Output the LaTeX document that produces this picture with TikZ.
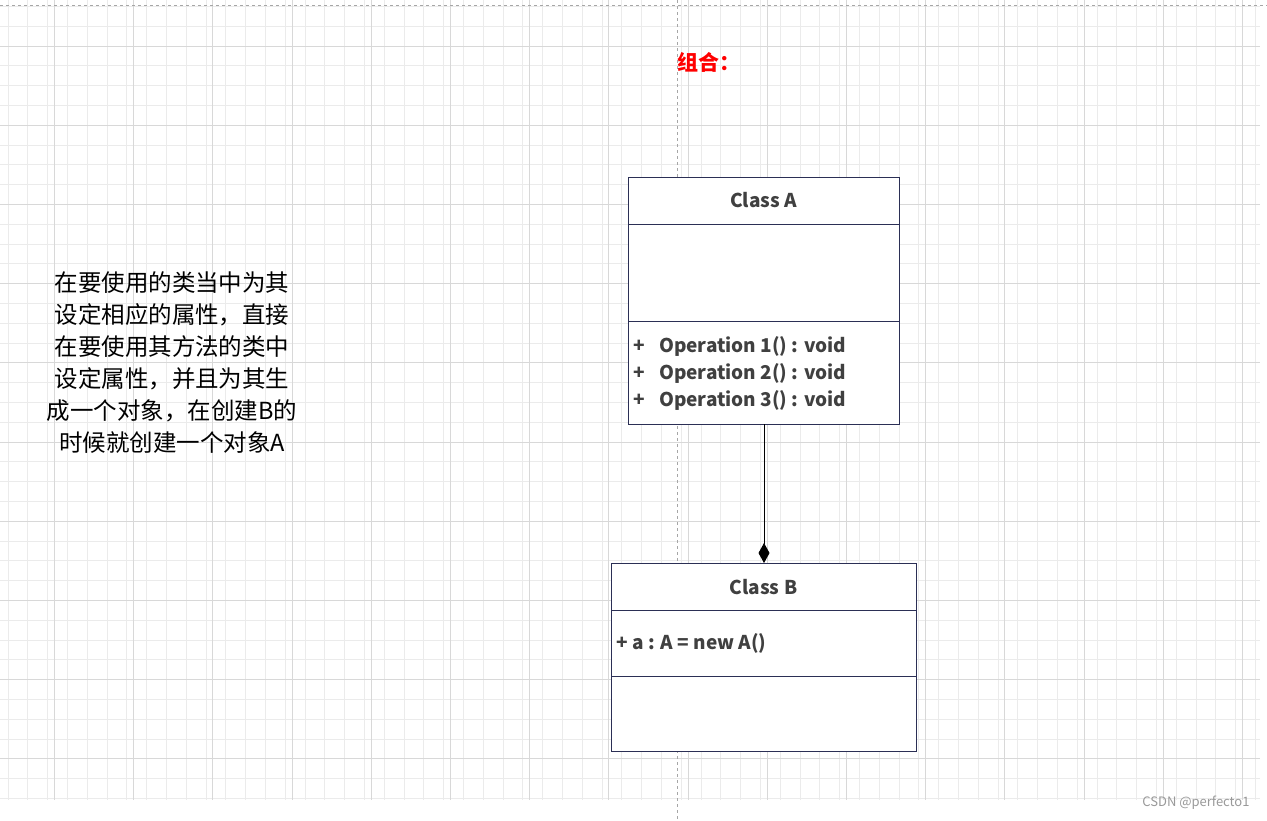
\documentclass[tikz,border=0pt]{standalone}
\usepackage{fontspec}
\setmainfont{Noto Sans CJK SC}
\newfontfamily\cjk{Noto Sans CJK SC}
\usetikzlibrary{arrows.meta}
\definecolor{minor}{HTML}{EBEBEB}
\definecolor{major}{HTML}{D8D8D8}
\definecolor{boxc}{HTML}{2B2F55}
\definecolor{txt}{HTML}{404040}
\tikzset{
  umlbox/.style={draw=boxc, line width=0.9pt, fill=white},
  hdr/.style={font=\fontsize{19}{22}\selectfont\bfseries, text=txt},
  op/.style={font=\fontsize{19}{22}\selectfont\bfseries, text=txt, anchor=west},
  note/.style={font=\fontsize{23.5}{32}\selectfont, align=center, text=black},
}
\begin{document}
\begin{tikzpicture}[x=1pt,y=-1pt]
\useasboundingbox (0,0) rectangle (1267,820);
\fill[white] (0,0) rectangle (1267,820);
% grid
\foreach \i in {0,...,63} {\draw[minor,line width=0.8pt] ({8+19.8*\i},0) -- ({8+19.8*\i},800);}
\foreach \i in {0,...,40} {\draw[minor,line width=0.8pt] (0,{6.4+19.8*\i}) -- (1260,{6.4+19.8*\i});}
\foreach \i in {-9,...,6} {\draw[major,line width=0.8pt] ({767.2+79.2*\i},0) -- ({767.2+79.2*\i},800);}
\foreach \i in {0,...,9} {\draw[major,line width=0.8pt] (0,{46+79.2*\i}) -- (1260,{46+79.2*\i});}
\draw[gray!70,dashed,line width=0.8pt] (0,5) -- (1267,5);
\draw[gray!70,dashed,line width=0.8pt] (677,0) -- (677,820);
% title
\node[anchor=west,text=red,font=\fontsize{21}{24}\selectfont\bfseries] (title) at (674,62) {组合：};
% Class A
\draw[umlbox] (628,177) rectangle (899,424);
\draw[boxc,line width=0.9pt] (628,224) -- (899,224) (628,321) -- (899,321);
\node[hdr] (ah) at (763.5,200) {Class A};
\coordinate (abot) at (764,424);
\node[op] at (630,346) {+\hspace{14pt}Operation 1() : void};
\node[op] at (630,373) {+\hspace{14pt}Operation 2() : void};
\node[op] at (630,400) {+\hspace{14pt}Operation 3() : void};
% Class B
\draw[umlbox] (611,563) rectangle (916,751);
\draw[boxc,line width=0.9pt] (611,610) -- (916,610) (611,676) -- (916,676);
\node[hdr] (bh) at (763.5,587) {Class B};
\coordinate (btop) at (764,563);
\node[op] at (613,643) {+ a : A = new A()};
% composition
\draw[black,line width=0.9pt,-{Diamond[length=20pt,width=11pt]}] (abot) -- (btop);
% note
\node[note] (n) at (172,363) {在要使用的类当中为其\\设定相应的属性，直接\\在要使用其方法的类中\\设定属性，并且为其生\\成一个对象，在创建B的\\时候就创建一个对象A};
\node[anchor=east,text=gray!80,font=\fontsize{13}{15}\selectfont] (wm) at (1253,803) {CSDN @perfecto1};
\end{tikzpicture}
\end{document}
